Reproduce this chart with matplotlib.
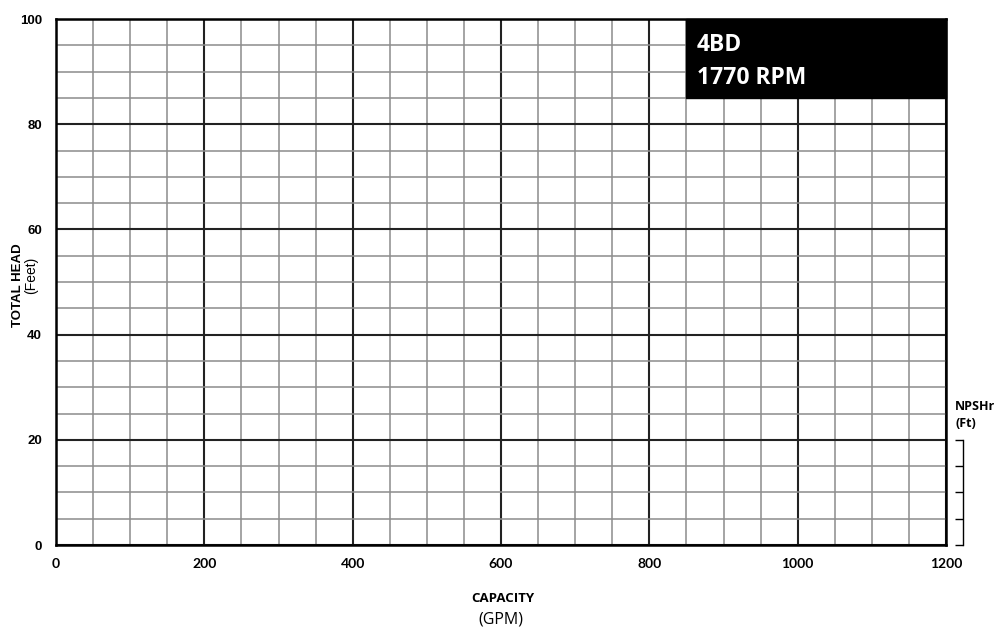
import matplotlib
matplotlib.use("Agg")
import matplotlib.pyplot as plt
from matplotlib.patches import Rectangle
import numpy as np

# ---- data / labels ----
x_major = [0, 200, 400, 600, 800, 1000, 1200]
x_minor = list(range(0, 1201, 50))
y_major = [0, 20, 40, 60, 80, 100]
y_minor = list(range(0, 101, 5))
npsh_ticks = [0, 5, 10, 15, 20]
model = "4BD"
speed = "1770 RPM"
x_title = "CAPACITY"
x_unit = "(GPM)"
y_title = "TOTAL HEAD"
y_unit = "(Feet)"
npsh_label = "NPSHr\n(Ft)"
box_x = [850, 1200]
box_y = [85, 100]

W, H = 1000, 630
fig = plt.figure(figsize=(10, 6.3), dpi=100)
fig.patch.set_facecolor("white")
L, R, T, B = 56, 946, 19, 545
ax = fig.add_axes([L / W, 1 - B / H, (R - L) / W, (B - T) / H])
ax.set_xlim(x_major[0], x_major[-1])
ax.set_ylim(y_major[0], y_major[-1])

ax.set_xticks(x_major)
ax.set_xticks(x_minor, minor=True)
ax.set_yticks(y_major)
ax.set_yticks(y_minor, minor=True)
ax.grid(which="minor", color="#8c8c8c", lw=1.1, zorder=0)
ax.grid(which="major", color="#222222", lw=1.5, zorder=0)
ax.set_axisbelow(True)

ax.set_xticklabels([str(v) for v in x_major], family="Lato", weight="bold", size=10)
ax.set_yticklabels([str(v) for v in y_major], family="Liberation Sans", weight="bold", size=9.5)
ax.tick_params(which="both", length=0)
ax.tick_params(axis="x", pad=9)
ax.tick_params(axis="y", pad=10)
for s in ax.spines.values():
    s.set_color("black")
    s.set_linewidth(1.8)

# black title box
ax.add_patch(Rectangle((box_x[0], box_y[0]), box_x[1] - box_x[0], box_y[1] - box_y[0],
                       facecolor="black", edgecolor="black", zorder=3, clip_on=False))
fig.text(697 / W, 1 - 51 / H, model, color="white", family="Open Sans", weight="bold",
         size=16.5, ha="left", va="baseline")
fig.text(697 / W, 1 - 84 / H, speed, color="white", family="Open Sans", weight="bold",
         size=16.5, ha="left", va="baseline")

# NPSHr side scale
ax2 = ax.twinx()
ax2.set_ylim(y_major[0], y_major[-1])
for k in ["top", "bottom", "left"]:
    ax2.spines[k].set_visible(False)
ax2.spines["right"].set_position(("axes", (963 - L) / (R - L)))
ax2.spines["right"].set_bounds(npsh_ticks[0], npsh_ticks[-1])
ax2.spines["right"].set_linewidth(1.0)
ax2.set_yticks(npsh_ticks)
ax2.set_yticklabels([])
ax2.tick_params(axis="y", direction="in", length=6, width=1.0, color="black")
fig.text(955 / W, 1 - 415 / H, npsh_label, family="Open Sans", weight="bold", size=9,
         ha="left", va="center", linespacing=1.4)

# axis titles
fig.text(18 / W, 1 - 285 / H, y_title, family="Liberation Sans", weight="bold", size=9.5,
         rotation=90, ha="center", va="center")
fig.text(31 / W, 1 - 275 / H, y_unit, family="Liberation Sans", size=10,
         rotation=90, ha="center", va="center")
fig.text(503 / W, 1 - 598 / H, x_title, family="Open Sans", weight="bold", size=9.5,
         ha="center", va="center")
fig.text(501 / W, 1 - 619 / H, x_unit, family="Open Sans", size=11.5,
         ha="center", va="center")

fig.savefig("out.png", dpi=100, facecolor="white")
